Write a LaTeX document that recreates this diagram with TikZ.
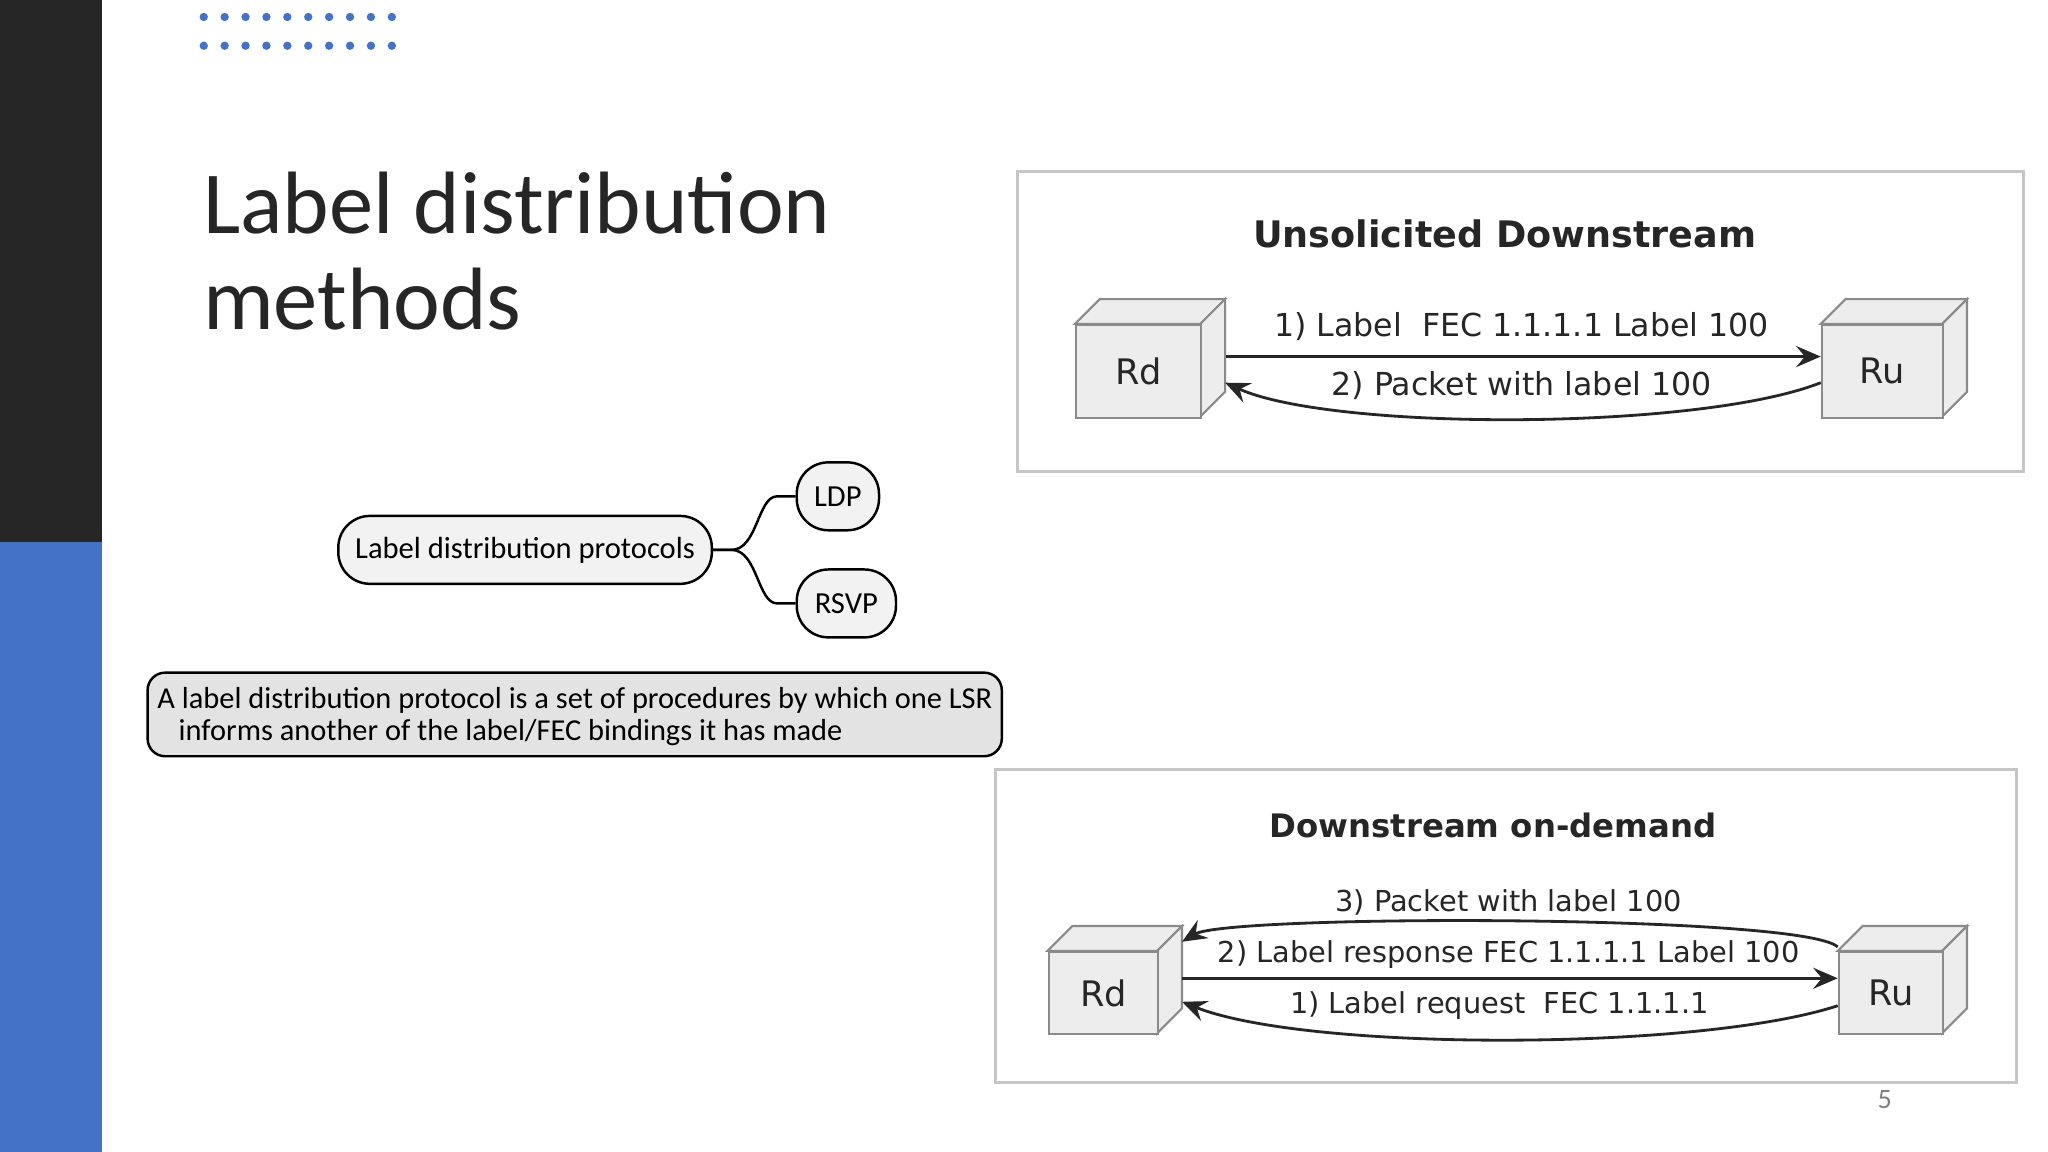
\documentclass[tikz,border=0pt]{standalone}
\usepackage{fontspec}
\setmainfont{Carlito}
\newfontfamily\djfont{DejaVu Sans}
\usetikzlibrary{arrows.meta}
\definecolor{darkbar}{HTML}{262626}
\definecolor{bluebar}{HTML}{4472C4}
\definecolor{cubefill}{HTML}{EDEDED}
\definecolor{cubeline}{HTML}{8A8A8A}
\tikzset{
  panel/.style={draw=gray!45, line width=0.8pt, fill=white},
  mmnode/.style={draw=black, line width=0.7pt, rounded corners=9pt, fill=gray!10, inner sep=0pt, font=\fontsize{8.7}{8.7}\selectfont},
  lbl/.style={font=\djfont\fontsize{9}{9}\selectfont, text=black!85},
  lblb/.style={font=\djfont\fontsize{8.2}{8.2}\selectfont, text=black!85},
  ttl/.style={font=\djfont\bfseries\fontsize{10.4}{10.4}\selectfont, text=black!85},
  ttlb/.style={font=\djfont\bfseries\fontsize{9.2}{9.2}\selectfont, text=black!85},
  arr/.style={-{Stealth[length=7pt,width=6pt,inset=2.5pt]}, line width=0.8pt, black!85},
  face/.style={draw=cubeline, fill=cubefill, line width=0.6pt},
}
\newcommand{\mycube}[6]{% name, x1,y1,x2,y2, label
  \filldraw[face] (#2,#3) -- ++(19,-19) -- (#4+19,#3-19) -- (#4,#3) -- cycle;
  \filldraw[face] (#4,#3) -- (#4+19,#3-19) -- (#4+19,#5-19) -- (#4,#5) -- cycle;
  \node[face, minimum width={(#4-#2)*0.0130612cm}, minimum height={(#5-#3)*0.0130612cm}, inner sep=0pt, anchor=north west, font=\djfont\fontsize{10}{10}\selectfont, text=black!85] (#1) at (#2,#3) {#6};
}
\begin{document}
\begin{tikzpicture}[x=0.0130612cm, y=-0.0130612cm]
\useasboundingbox (0,0) rectangle (1568,882);
\fill[white] (0,0) rectangle (1568,882);
\fill[darkbar] (0,0) rectangle (78,415);
\fill[bluebar] (0,415) rectangle (78,882);
\foreach \i in {0,...,9} {
  \fill[bluebar] (156+16*\i,13) circle (3.2);
  \fill[bluebar] (156+16*\i,35) circle (3.2);
}
\node[anchor=north west, inner sep=0pt, align=left, font=\fontsize{25.2}{27.3}\selectfont, text=black!85] (title) at (155,131) {Label distribution\\methods};

% mind map
\node[mmnode, minimum width={286*0.0130612cm}, minimum height={52*0.0130612cm}] (root) at (402,421) {Label distribution protocols};
\node[mmnode, minimum width={63*0.0130612cm}, minimum height={52*0.0130612cm}] (ldp) at (641.5,380) {LDP};
\node[mmnode, minimum width={76*0.0130612cm}, minimum height={52*0.0130612cm}] (rsvp) at (648,462) {RSVP};
\draw[line width=0.7pt] (root.east) -- (560,421) .. controls (580,421) and (580,380) .. (595,380) -- (ldp.west);
\draw[line width=0.7pt] (root.east) -- (560,421) .. controls (580,421) and (580,462) .. (595,462) -- (rsvp.west);
\node[draw=black, line width=0.7pt, rounded corners=5pt, fill=gray!22, minimum width={654*0.0130612cm}, minimum height={64*0.0130612cm}, inner sep=0pt] (note) at (440,547) {};
\node[anchor=north west, inner sep=0pt, align=left, font=\fontsize{8.65}{9}\selectfont] (notetxt) at (120,526) {A label distribution protocol is a set of procedures by which one LSR\\\hspace*{0.7em}informs another of the label/FEC bindings it has made};

% top panel
\draw[panel] (779,131) rectangle (1549,361);
\node[ttl] (t1) at (1152,179) {Unsolicited Downstream};
\mycube{rd1}{823}{248}{919}{319}{Rd}
\mycube{ru1}{1394}{248}{1487}{319}{Ru}
\coordinate (a1s) at (939,273);
\coordinate (a2e) at (938,293);
\draw[arr] (a1s) -- (ru1.west|-a1s);
\node[lbl] (l1) at (1165,250) {1) Label\ \ FEC 1.1.1.1 Label 100};
\draw[arr] (ru1.west|-a2e) .. controls (1300,330) and (1020,330) .. (a2e);
\node[lbl] (l2) at (1165,295) {2) Packet with label 100};

% bottom panel
\draw[panel] (762,589) rectangle (1544,829);
\node[ttlb] (t2) at (1143,632) {Downstream on-demand};
\mycube{rd2}{802}{728}{886}{791}{Rd}
\mycube{ru2}{1407}{728}{1487}{791}{Ru}
\coordinate (b3s) at (1407,725);
\coordinate (b3e) at (905,721);
\coordinate (b2s) at (905,749);
\coordinate (b1e) at (905,767);
\coordinate (b1s) at (1407,770);
\draw[arr] (b3s) .. controls (1380,700) and (940,700) .. (b3e);
\node[lblb] (m3) at (1155,691) {3) Packet with label 100};
\draw[arr] (b2s) -- (ru2.west|-b2s);
\node[lblb] (m2) at (1155,731) {2) Label response FEC 1.1.1.1 Label 100};
\draw[arr] (b1s) .. controls (1300,805) and (1000,805) .. (b1e);
\node[lblb] (m1) at (1148,770) {1) Label request\ \ FEC 1.1.1.1};

\node[text=gray, font=\fontsize{8}{8}\selectfont] (pg) at (1443,842) {5};
\end{tikzpicture}
\end{document}
